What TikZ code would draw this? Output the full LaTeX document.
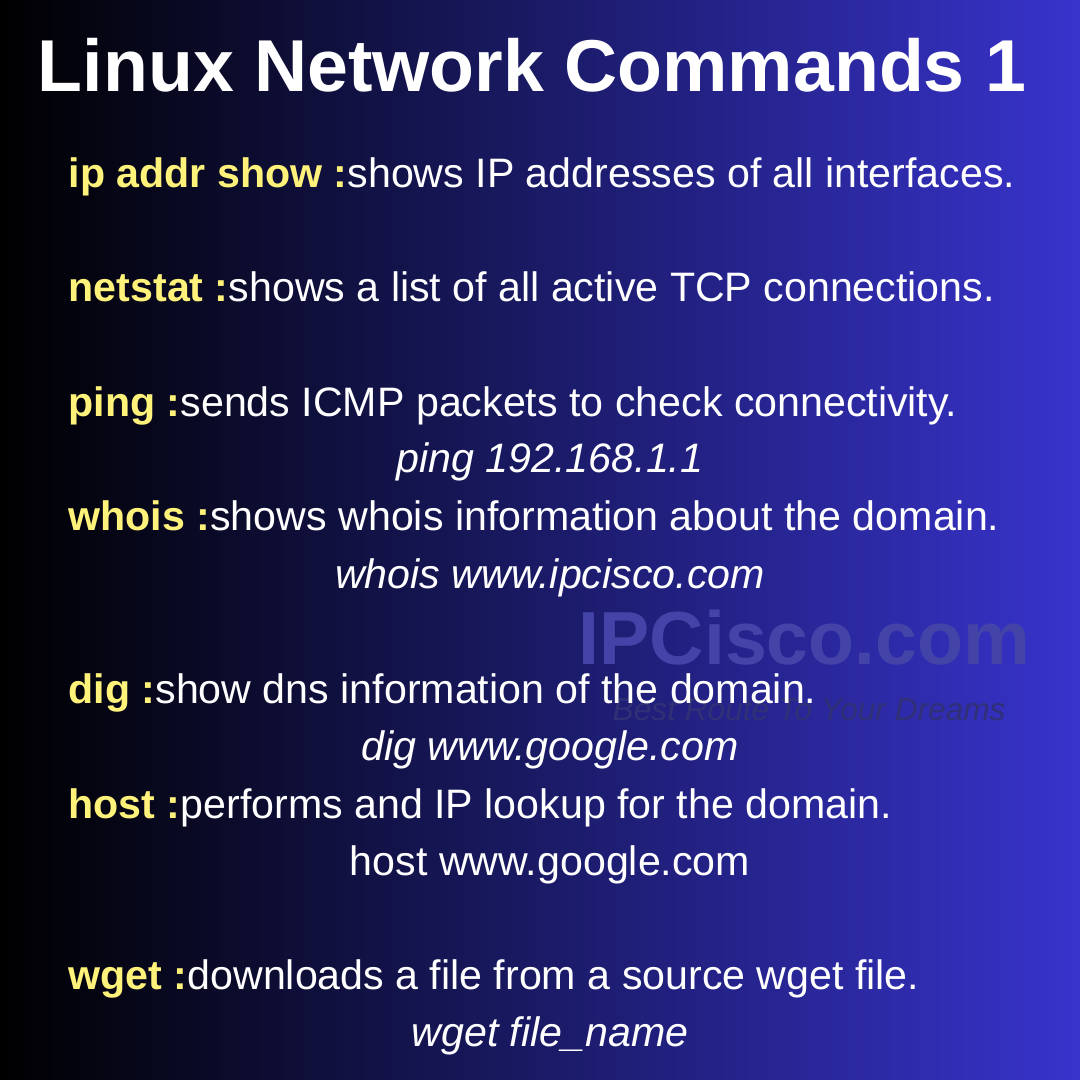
\documentclass[tikz,border=0pt]{standalone}
\usepackage{fontspec}
\setmainfont{Liberation Sans}
\usetikzlibrary{positioning}
\definecolor{cmdyellow}{HTML}{FFF27A}
\definecolor{bgblue}{HTML}{3833CC}
\definecolor{bgmid}{HTML}{1A1A66}
\definecolor{wmark}{HTML}{4444A8}

\begin{document}
\begin{tikzpicture}[x=0.01cm,y=-0.01cm,
    cmd/.style={anchor=base west, inner sep=0pt, font=\fontsize{11.7}{14}\selectfont},
    example/.style={anchor=base, inner sep=0pt, text=white, font=\fontsize{11.7}{14}\selectfont\itshape}]

  \shade [left color=black, right color=bgblue, middle color=bgmid] (0,0) rectangle (1080,1080);
  \useasboundingbox (0,0) rectangle (1080,1080);

  % watermark
  \node [anchor=base west, inner sep=0pt, text=wmark, font=\fontsize{21.4}{24}\selectfont\bfseries] (wm) at (578,664) {IPCisco.com};
  \node [anchor=base west, inner sep=0pt, text=wmark!70!black, font=\fontsize{9}{10}\selectfont\itshape] (wm_sub) at (612,720) {Best Route To Your Dreams};

  \node [anchor=base, inner sep=0pt, text=white, font=\fontsize{20.9}{24}\selectfont\bfseries] (title) at (532,92) {Linux Network Commands 1};

  \foreach \y/\name/\cmd/\desc in {188/ipaddr/ip addr show/shows IP addresses of all interfaces.,
      302/netstat/netstat/shows a list of all active TCP connections.,
      417/ping/ping/sends ICMP packets to check connectivity.,
      531/whois/whois/shows whois information about the domain.,
      703/dig/dig/show dns information of the domain.,
      818/host/host/performs and IP lookup for the domain.,
      989/wget/wget/downloads a file from a source wget file.}
  {
    \node [cmd] (line_\name) at (68,\y) {\textcolor{cmdyellow}{\bfseries\cmd{} :}\textcolor{white}{ \desc}};
  }

  \node [example] (ex_ping) at (550,473) {ping 192.168.1.1};
  \node [example] (ex_whois) at (550,588) {whois www.ipcisco.com};
  \node [example] (ex_dig) at (550,760) {dig www.google.com};
  \node [example, font=\fontsize{11.7}{14}\selectfont\upshape] (ex_host) at (550,875) {host www.google.com};
  \node [example] (ex_wget) at (550,1046) {wget file\_name};

\end{tikzpicture}
\end{document}
